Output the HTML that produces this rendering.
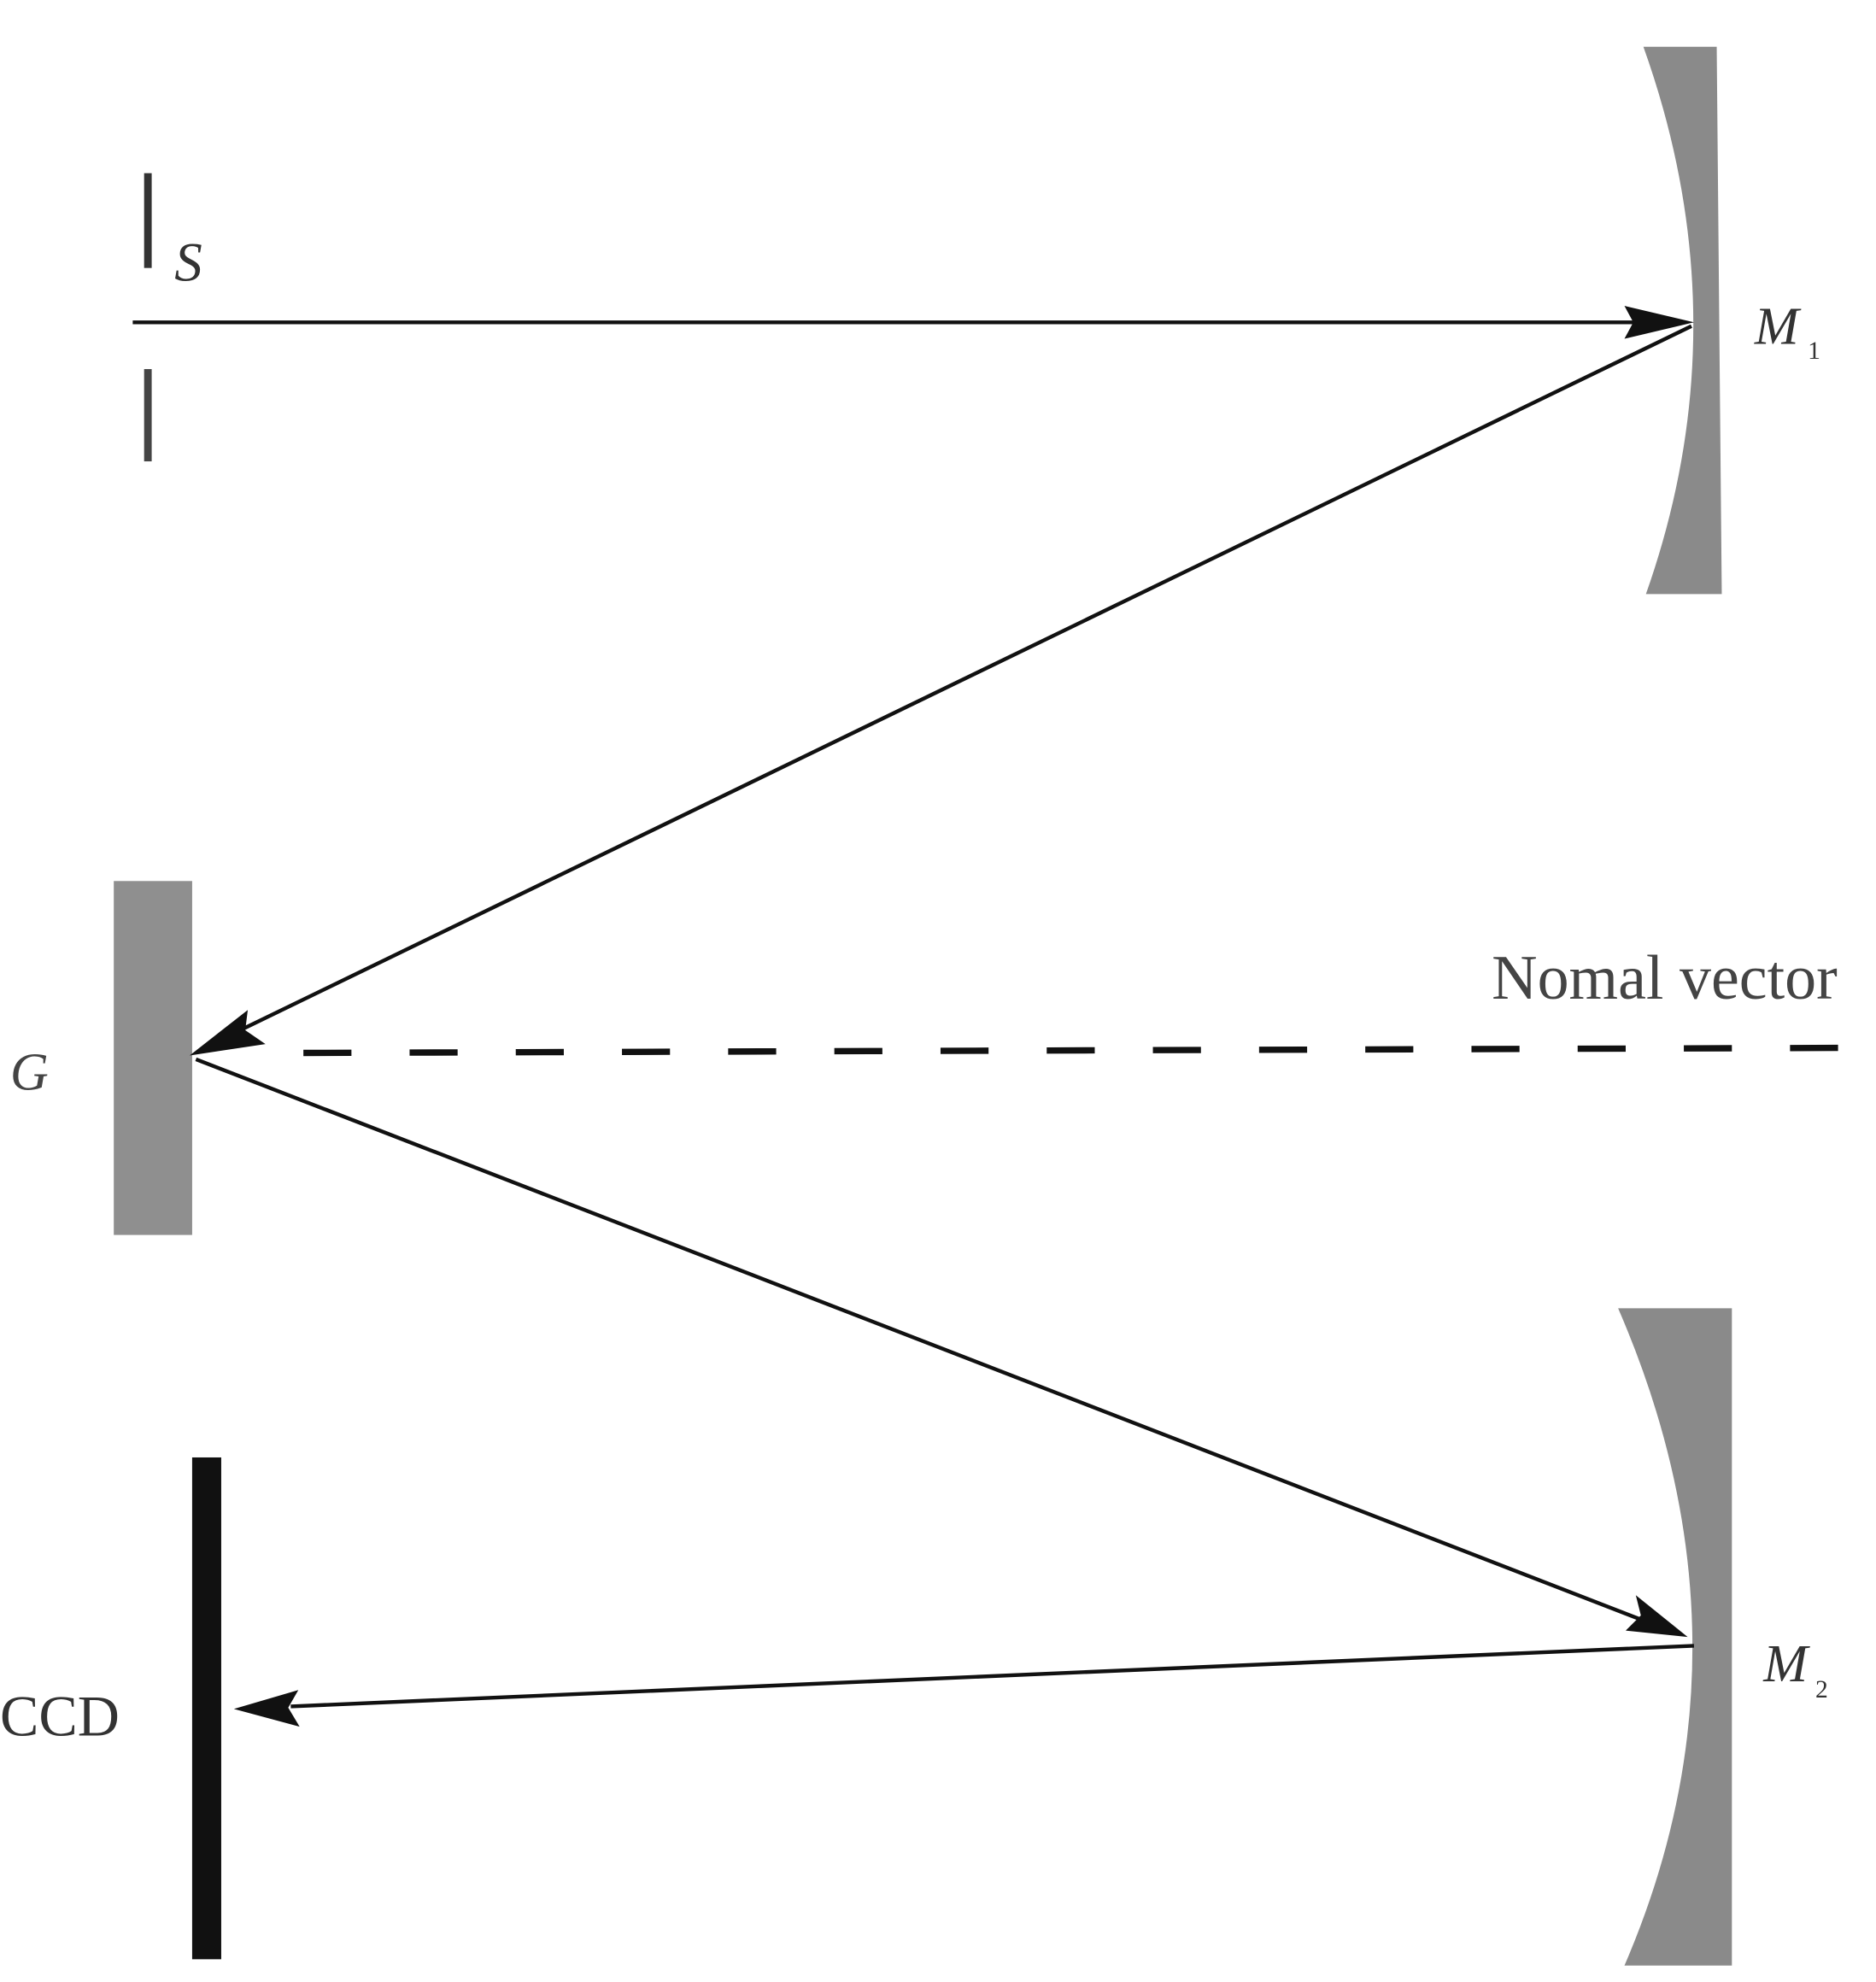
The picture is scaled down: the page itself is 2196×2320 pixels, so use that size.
<!DOCTYPE html>
<html><head><meta charset="utf-8"><style>html,body{margin:0;padding:0;background:#fff}svg{display:block}</style></head>
<body>
<svg width="2196" height="2320" viewBox="0 0 1484 1568" preserveAspectRatio="none" xmlns="http://www.w3.org/2000/svg">
<rect width="1484" height="1568" fill="#fff"/>
<!-- slit -->
<rect x="114" y="137" width="6" height="75" fill="#333"/>
<rect x="114" y="292" width="6" height="73" fill="#444"/>
<text x="138" y="222" font-family="Liberation Serif, serif" font-style="italic" font-size="44" fill="#333">S</text>
<!-- M1 -->
<path d="M1300 37 L1358 37 L1362 470 L1302 470 Q1378 255 1300 37 Z" fill="#8a8a8a"/>
<text x="1388" y="272" font-family="Liberation Serif, serif" font-style="italic" font-size="42" fill="#333">M</text>
<text x="1430" y="284" font-family="Liberation Serif, serif" font-size="20" fill="#333">1</text>
<!-- G -->
<rect x="90" y="697" width="62" height="280" fill="#8f8f8f"/>
<text x="8" y="862" font-family="Liberation Serif, serif" font-style="italic" font-size="42" fill="#444">G</text>
<!-- M2 -->
<path d="M1280 1035 L1370 1035 L1370 1555 L1285 1555 Q1395 1300 1280 1035 Z" fill="#8a8a8a"/>
<text x="1395" y="1330" font-family="Liberation Serif, serif" font-style="italic" font-size="42" fill="#333">M</text>
<text x="1436" y="1343" font-family="Liberation Serif, serif" font-size="20" fill="#333">2</text>
<!-- CCD -->
<rect x="152" y="1153" width="23" height="397" fill="#111"/>
<text x="0" y="1373" font-family="Liberation Serif, serif" font-size="46" fill="#333">CCD</text>
<!-- rays -->
<g stroke="#111" stroke-width="3" fill="none">
<line x1="105" y1="255" x2="1300" y2="255"/>
<line x1="1338" y1="258" x2="190" y2="815"/>
<line x1="155" y1="838" x2="1300" y2="1282"/>
<line x1="1340" y1="1302" x2="230" y2="1350"/>
<line x1="240" y1="833" x2="1458" y2="829" stroke-dasharray="38,46" stroke-width="5"/>
</g>
<g fill="#111">
<polygon points="1340,255 1285,242 1292,255 1285,268"/>
<polygon points="150,835 196,799 194,815 210,826"/>
<polygon points="1335,1295 1286,1290 1298,1278 1294,1262"/>
<polygon points="185,1352 236,1337 228,1351 237,1366"/>
</g>
<text x="1180" y="790" font-family="Liberation Serif, serif" font-size="50" fill="#444">Nomal vector</text>
</svg>
</body></html>
